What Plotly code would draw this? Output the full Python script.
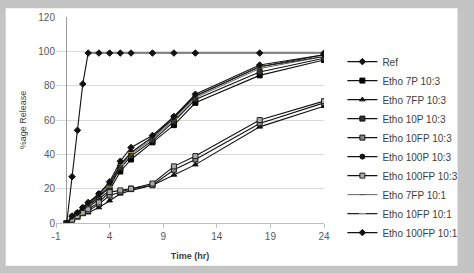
import plotly.graph_objects as go

time_hr = [0, 0.5, 1, 1.5, 2, 3, 4, 5, 6, 8, 10, 12, 18, 24]

series_names = ["Ref", "Etho 7P 10:3", "Etho 7FP 10:3", "Etho 10P 10:3", "Etho 10FP 10:3",
                "Etho 100P 10:3", "Etho 100FP 10:3", "Etho 7FP 10:1", "Etho 10FP 10:1", "Etho 100FP 10:1"]

ref = [0, 27, 54, 81, 99, 99, 99, 99, 99, 99, 99, 99, 99, 99]
etho_7p_103 = [0, 3, 5, 7, 9, 14, 19, 30, 37, 47, 57, 70, 86, 95]
etho_7fp_103 = [0, 2, 3, 5, 6, 9, 13, 17, 19, 22, 28, 34, 56, 68]
etho_10p_103 = [0, 3, 5, 8, 10, 15, 21, 32, 39, 48, 59, 72, 88, 96]
etho_10fp_103 = [0, 2, 4, 6, 7, 11, 16, 18, 20, 22, 31, 37, 58, 70]
etho_100p_103 = [0, 4, 6, 9, 11, 17, 23, 34, 41, 50, 62, 74, 91, 98]
etho_100fp_103 = [0, 2, 4, 6, 8, 12, 18, 19, 20, 23, 33, 39, 60, 71]
etho_7fp_101 = [0, 3, 6, 8, 10, 16, 22, 33, 40, 49, 60, 73, 90, 97]
etho_10fp_101 = [0, 3, 5, 8, 11, 16, 21, 34, 41, 50, 61, 74, 91, 97]
etho_100fp_101 = [0, 4, 6, 9, 12, 17, 24, 36, 44, 51, 62, 75, 92, 98]

series_values = [ref, etho_7p_103, etho_7fp_103, etho_10p_103, etho_10fp_103,
                 etho_100p_103, etho_100fp_103, etho_7fp_101, etho_10fp_101, etho_100fp_101]

x_ticks = [-1, 4, 9, 14, 19, 24]
y_ticks = [0, 20, 40, 60, 80, 100, 120]

styles = [
    dict(symbol="diamond", size=5, color="#111111", lc="#111111", lw=1.1, mline="#111111"),
    dict(symbol="square", size=5, color="#000000", lc="#111111", lw=1.1, mline="#000000"),
    dict(symbol="triangle-up", size=5, color="#111111", lc="#111111", lw=1.1, mline="#111111"),
    dict(symbol="square", size=5, color="#333333", lc="#111111", lw=1.1, mline="#111111"),
    dict(symbol="square", size=5, color="#888888", lc="#111111", lw=1.1, mline="#111111"),
    dict(symbol="circle", size=5, color="#111111", lc="#111111", lw=1.1, mline="#111111"),
    dict(symbol="square", size=5, color="#aaaaaa", lc="#111111", lw=1.1, mline="#222222"),
    dict(symbol="line-ew", size=4, color="#555555", lc="#555555", lw=0.9, mline="#555555"),
    dict(symbol="line-ew", size=5, color="#b0a060", lc="#222222", lw=1.1, mline="#b0a060"),
    dict(symbol="diamond", size=5, color="#111111", lc="#111111", lw=1.1, mline="#111111"),
]

fig = go.Figure()
for name, vals, st in zip(series_names, series_values, styles):
    fig.add_trace(go.Scatter(
        x=time_hr, y=vals, name=name, mode="lines+markers",
        line=dict(color=st["lc"], width=st["lw"]),
        marker=dict(symbol=st["symbol"], size=st["size"], color=st["color"],
                    line=dict(color=st["mline"], width=1)),
    ))

W, H = 474, 273
L, R, T, B = 56, 333, 11, 223
pw, ph = R - L, B - T

def px_x(p):
    return (p - L) / pw

def px_y(p):
    return (B - p) / ph

# white inner panel over gray frame
fig.add_shape(type="rect", xref="paper", yref="paper", layer="below",
              x0=px_x(4), x1=px_x(471), y0=px_y(267), y1=px_y(2),
              fillcolor="white", line=dict(width=0))

fig.update_layout(
    width=W, height=H,
    margin=dict(l=L, r=W - R, t=T, b=H - B, pad=0),
    paper_bgcolor="#c4c4c4",
    plot_bgcolor="rgba(0,0,0,0)",
    font=dict(family="Liberation Sans, Arial, sans-serif", size=10, color="#595959"),
    showlegend=True,
    legend=dict(x=px_x(352), y=px_y(42), xanchor="left", yanchor="top",
                bgcolor="rgba(0,0,0,0)", font=dict(size=10, color="#404040"),
                itemwidth=30, tracegroupgap=0),
    xaxis=dict(range=[-1, 24], tickvals=x_ticks, ticktext=[str(v) for v in x_ticks],
               showgrid=False, zeroline=True, zerolinecolor="#9a9a9a", zerolinewidth=1,
               showline=True, linecolor="#bfbfbf", linewidth=1,
               ticks="outside", ticklen=4, tickcolor="#bfbfbf",
               tickfont=dict(size=10, color="#595959"),
               title=dict(text="<b>Time (hr)</b>", font=dict(size=9, color="#404040"), standoff=11)),
    yaxis=dict(range=[0, 120], tickvals=y_ticks,
               showgrid=True, gridcolor="#d9d9d9", gridwidth=1,
               zeroline=False, showline=False, ticks="",
               tickfont=dict(size=10, color="#595959"),
               title=dict(text="%age Release", font=dict(size=9, color="#404040"), standoff=10)),
)

fig.write_html("out.html")
